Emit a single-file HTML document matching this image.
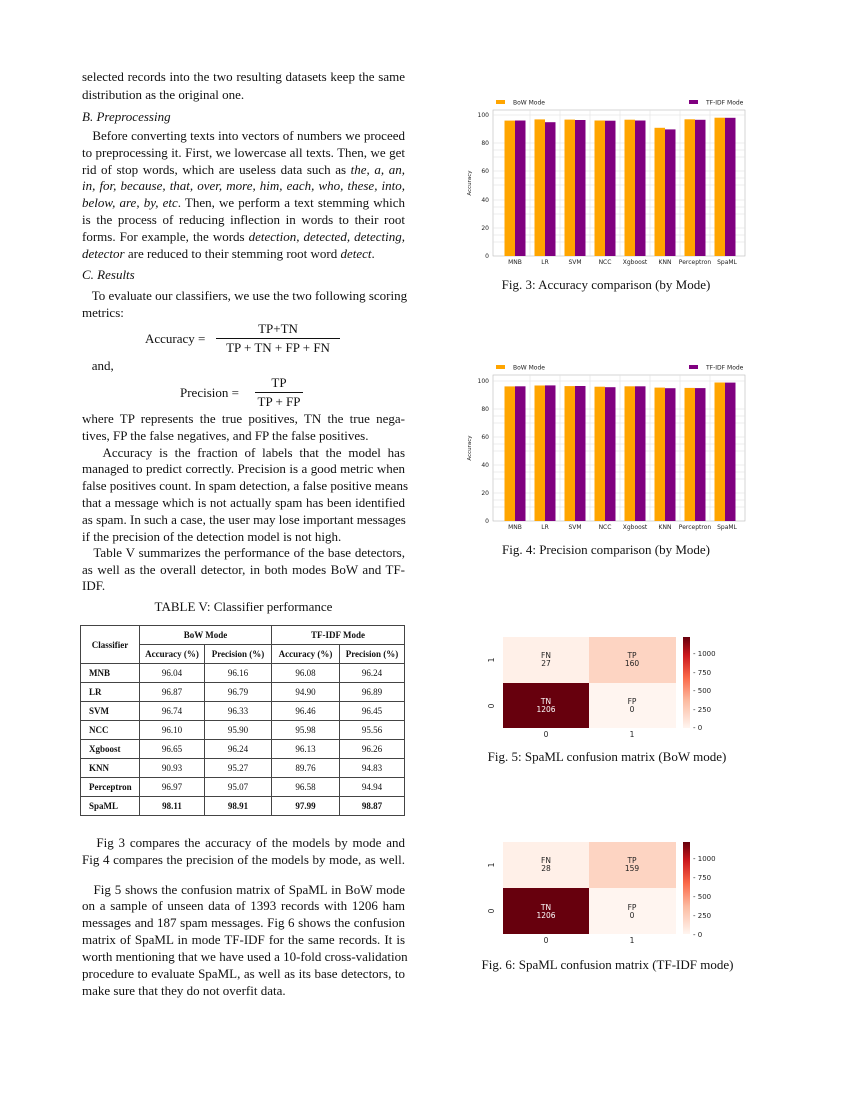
<!DOCTYPE html>
<html><head><meta charset="utf-8"><style>
body{margin:0;background:#fff;}
#p{position:relative;width:850px;height:1100px;overflow:hidden;font-family:"Liberation Serif",serif;font-size:13px;color:#111;}
.l{position:absolute;left:82px;width:323px;white-space:nowrap;text-align:justify;text-align-last:justify;line-height:16px;}
.n{text-align-last:left;}
.c{position:absolute;white-space:nowrap;line-height:16px;}
i{font-style:italic;}
table{position:absolute;left:80px;top:625px;border-collapse:collapse;font-size:9px;}
td{border:1px solid #444;text-align:center;height:18px;padding:0;}
td.b{font-weight:bold;text-align:left;padding-left:8px;}
svg{position:absolute;left:0;top:0;}
</style></head><body><div id="p">
<div class="l" style="top:69px">selected records into the two resulting datasets keep the same</div>
<div class="l n" style="top:87px">distribution as the original one.</div>
<div class="l n" style="top:109px"><i>B. Preprocessing</i></div>
<div class="l" style="top:128px">&nbsp;&nbsp;&nbsp;Before converting texts into vectors of numbers we proceed</div>
<div class="l" style="top:145px">to preprocessing it. First, we lowercase all texts. Then, we get</div>
<div class="l" style="top:162px">rid of stop words, which are useless data such as <i>the, a, an,</i></div>
<div class="l" style="top:178px"><i>in, for, because, that, over, more, him, each, who, these, into,</i></div>
<div class="l" style="top:195px"><i>below, are, by, etc</i>. Then, we perform a text stemming which</div>
<div class="l" style="top:212px">is the process of reducing inflection in words to their root</div>
<div class="l" style="top:229px">forms. For example, the words <i>detection, detected, detecting,</i></div>
<div class="l n" style="top:246px"><i>detector</i> are reduced to their stemming root word <i>detect</i>.</div>
<div class="l n" style="top:267px"><i>C. Results</i></div>
<div class="l" style="top:288px">&nbsp;&nbsp;&nbsp;To evaluate our classifiers, we use the two following scoring</div>
<div class="l n" style="top:305px">metrics:</div>
<div class="c" style="left:145px;top:331px">Accuracy =</div>
<div class="c" style="left:216px;top:321px;width:124px;text-align:center">TP+TN</div>
<div style="position:absolute;left:216px;top:338px;width:124px;border-top:1px solid #111"></div>
<div class="c" style="left:216px;top:340px;width:124px;text-align:center">TP + TN + FP + FN</div>
<div class="c" style="left:82px;top:358px">&nbsp;&nbsp;&nbsp;and,</div>
<div class="c" style="left:180px;top:385px">Precision =</div>
<div class="c" style="left:255px;top:375px;width:48px;text-align:center">TP</div>
<div style="position:absolute;left:255px;top:392px;width:48px;border-top:1px solid #111"></div>
<div class="c" style="left:255px;top:394px;width:48px;text-align:center">TP + FP</div>
<div class="l" style="top:411px">where TP represents the true positives, TN the true nega-</div>
<div class="l n" style="top:428px">tives, FP the false negatives, and FP the false positives.</div>
<div class="l" style="top:445px">&nbsp;&nbsp;&nbsp;Accuracy is the fraction of labels that the model has</div>
<div class="l" style="top:461px">managed to predict correctly. Precision is a good metric when</div>
<div class="l" style="top:478px">false positives count. In spam detection, a false positive means</div>
<div class="l" style="top:495px">that a message which is not actually spam has been identified</div>
<div class="l" style="top:512px">as spam. In such a case, the user may lose important messages</div>
<div class="l n" style="top:529px">if the precision of the detection model is not high.</div>
<div class="l" style="top:545px">&nbsp;&nbsp;&nbsp;Table V summarizes the performance of the base detectors,</div>
<div class="l" style="top:562px">as well as the overall detector, in both modes BoW and TF-</div>
<div class="l n" style="top:578px">IDF.</div>
<div class="c" style="left:82px;top:599px;width:323px;text-align:center">TABLE V: Classifier performance</div>
<table>
<tr><td rowspan="2" style="width:58px;font-weight:bold">Classifier</td><td colspan="2" style="font-weight:bold">BoW Mode</td><td colspan="2" style="font-weight:bold">TF-IDF Mode</td></tr>
<tr><td style="width:64px;font-weight:bold">Accuracy (%)</td><td style="width:66px;font-weight:bold">Precision (%)</td><td style="width:67px;font-weight:bold">Accuracy (%)</td><td style="width:64px;font-weight:bold">Precision (%)</td></tr>
<tr><td class="b">MNB</td><td>96.04</td><td>96.16</td><td>96.08</td><td>96.24</td></tr>
<tr><td class="b">LR</td><td>96.87</td><td>96.79</td><td>94.90</td><td>96.89</td></tr>
<tr><td class="b">SVM</td><td>96.74</td><td>96.33</td><td>96.46</td><td>96.45</td></tr>
<tr><td class="b">NCC</td><td>96.10</td><td>95.90</td><td>95.98</td><td>95.56</td></tr>
<tr><td class="b">Xgboost</td><td>96.65</td><td>96.24</td><td>96.13</td><td>96.26</td></tr>
<tr><td class="b">KNN</td><td>90.93</td><td>95.27</td><td>89.76</td><td>94.83</td></tr>
<tr><td class="b">Perceptron</td><td>96.97</td><td>95.07</td><td>96.58</td><td>94.94</td></tr>
<tr style="font-weight:bold"><td class="b">SpaML</td><td>98.11</td><td>98.91</td><td>97.99</td><td>98.87</td></tr>
</table>
<div class="l" style="top:835px">&nbsp;&nbsp;&nbsp;Fig 3 compares the accuracy of the models by mode and</div>
<div class="l" style="top:852px">Fig 4 compares the precision of the models by mode, as well.</div>
<div class="l" style="top:882px">&nbsp;&nbsp;&nbsp;Fig 5 shows the confusion matrix of SpaML in BoW mode</div>
<div class="l" style="top:898px">on a sample of unseen data of 1393 records with 1206 ham</div>
<div class="l" style="top:915px">messages and 187 spam messages. Fig 6 shows the confusion</div>
<div class="l" style="top:932px">matrix of SpaML in mode TF-IDF for the same records. It is</div>
<div class="l" style="top:949px">worth mentioning that we have used a 10-fold cross-validation</div>
<div class="l" style="top:966px">procedure to evaluate SpaML, as well as its base detectors, to</div>
<div class="l n" style="top:983px">make sure that they do not overfit data.</div>

<div class="c" style="left:470px;top:277px;width:272px;text-align:center">Fig. 3: Accuracy comparison (by Mode)</div>
<div class="c" style="left:470px;top:542px;width:272px;text-align:center">Fig. 4: Precision comparison (by Mode)</div>
<div class="c" style="left:462px;top:749px;width:290px;text-align:center">Fig. 5: SpaML confusion matrix (BoW mode)</div>
<div class="c" style="left:455px;top:957px;width:305px;text-align:center">Fig. 6: SpaML confusion matrix (TF-IDF mode)</div>

<svg width="850" height="1100" font-family="DejaVu Sans, sans-serif" font-size="6" fill="#222">
<defs>
<g id="grid" stroke="#ccc" stroke-width="0.5">
<line x1="493" x2="745" y1="0" y2="0"/>
</g>
</defs>
<!-- Chart 1 -->
<g>
<rect x="493" y="110" width="252" height="146" fill="none" stroke="#bbb" stroke-width="0.6"/>
<g stroke="#ddd" stroke-width="0.5">
<line x1="493" x2="745" y1="115" y2="115"/><line x1="493" x2="745" y1="143" y2="143"/><line x1="493" x2="745" y1="171" y2="171"/><line x1="493" x2="745" y1="200" y2="200"/><line x1="493" x2="745" y1="228" y2="228"/>
<line x1="493" x2="745" y1="150" y2="150"/><line x1="493" x2="745" y1="157" y2="157"/><line x1="493" x2="745" y1="178" y2="178"/><line x1="493" x2="745" y1="185" y2="185"/><line x1="493" x2="745" y1="207" y2="207"/><line x1="493" x2="745" y1="214" y2="214"/><line x1="493" x2="745" y1="235" y2="235"/><line x1="493" x2="745" y1="242" y2="242"/>
<line y1="110" y2="256" x1="530" x2="530"/><line y1="110" y2="256" x1="560" x2="560"/><line y1="110" y2="256" x1="590" x2="590"/><line y1="110" y2="256" x1="620" x2="620"/><line y1="110" y2="256" x1="650" x2="650"/><line y1="110" y2="256" x1="680" x2="680"/><line y1="110" y2="256" x1="710" x2="710"/>
</g>
<g fill="#ffa500">
<rect x="504.5" y="120.6" width="10.5" height="135.4"/><rect x="534.5" y="119.4" width="10.5" height="136.6"/><rect x="564.5" y="119.6" width="10.5" height="136.4"/><rect x="594.5" y="120.5" width="10.5" height="135.5"/><rect x="624.5" y="119.7" width="10.5" height="136.3"/><rect x="654.5" y="127.8" width="10.5" height="128.2"/><rect x="684.5" y="119.3" width="10.5" height="136.7"/><rect x="714.5" y="117.7" width="10.5" height="138.3"/>
</g>
<g fill="#800080">
<rect x="515" y="120.5" width="10.5" height="135.5"/><rect x="545" y="122.2" width="10.5" height="133.8"/><rect x="575" y="120" width="10.5" height="136"/><rect x="605" y="120.7" width="10.5" height="135.3"/><rect x="635" y="120.5" width="10.5" height="135.5"/><rect x="665" y="129.4" width="10.5" height="126.6"/><rect x="695" y="119.8" width="10.5" height="136.2"/><rect x="725" y="117.8" width="10.5" height="138.2"/>
</g>
<rect x="493" y="97" width="252" height="10" fill="#fff"/>
<rect x="496" y="100" width="9" height="4" fill="#ffa500"/><text x="513" y="104.5">BoW Mode</text>
<rect x="689" y="100" width="9" height="4" fill="#800080"/><text x="706" y="104.5">TF-IDF Mode</text>
<g text-anchor="end"><text x="489" y="117">100</text><text x="489" y="145">80</text><text x="489" y="173">60</text><text x="489" y="202">40</text><text x="489" y="230">20</text><text x="489" y="258">0</text></g>
<text transform="translate(471,183) rotate(-90)" text-anchor="middle" font-size="5.5">Accuracy</text>
<g text-anchor="middle"><text x="515" y="264">MNB</text><text x="545" y="264">LR</text><text x="575" y="264">SVM</text><text x="605" y="264">NCC</text><text x="635" y="264">Xgboost</text><text x="665" y="264">KNN</text><text x="695" y="264">Perceptron</text><text x="727" y="264">SpaML</text></g>
</g>
<!-- Chart 2 -->
<g>
<rect x="493" y="375" width="252" height="146" fill="none" stroke="#bbb" stroke-width="0.6"/>
<g stroke="#ddd" stroke-width="0.5">
<line x1="493" x2="745" y1="381" y2="381"/><line x1="493" x2="745" y1="409" y2="409"/><line x1="493" x2="745" y1="437" y2="437"/><line x1="493" x2="745" y1="465" y2="465"/><line x1="493" x2="745" y1="493" y2="493"/>
<line x1="493" x2="745" y1="416" y2="416"/><line x1="493" x2="745" y1="423" y2="423"/><line x1="493" x2="745" y1="444" y2="444"/><line x1="493" x2="745" y1="451" y2="451"/><line x1="493" x2="745" y1="472" y2="472"/><line x1="493" x2="745" y1="479" y2="479"/><line x1="493" x2="745" y1="500" y2="500"/><line x1="493" x2="745" y1="507" y2="507"/>
<line y1="375" y2="521" x1="530" x2="530"/><line y1="375" y2="521" x1="560" x2="560"/><line y1="375" y2="521" x1="590" x2="590"/><line y1="375" y2="521" x1="620" x2="620"/><line y1="375" y2="521" x1="650" x2="650"/><line y1="375" y2="521" x1="680" x2="680"/><line y1="375" y2="521" x1="710" x2="710"/>
</g>
<g fill="#ffa500">
<rect x="504.5" y="386.4" width="10.5" height="134.6"/><rect x="534.5" y="385.5" width="10.5" height="135.5"/><rect x="564.5" y="386.1" width="10.5" height="134.9"/><rect x="594.5" y="386.7" width="10.5" height="134.3"/><rect x="624.5" y="386.3" width="10.5" height="134.7"/><rect x="654.5" y="387.6" width="10.5" height="133.4"/><rect x="684.5" y="387.9" width="10.5" height="133.1"/><rect x="714.5" y="382.5" width="10.5" height="138.5"/>
</g>
<g fill="#800080">
<rect x="515" y="386.3" width="10.5" height="134.7"/><rect x="545" y="385.4" width="10.5" height="135.6"/><rect x="575" y="386" width="10.5" height="135"/><rect x="605" y="387.2" width="10.5" height="133.8"/><rect x="635" y="386.3" width="10.5" height="134.7"/><rect x="665" y="388.2" width="10.5" height="132.8"/><rect x="695" y="388.1" width="10.5" height="132.9"/><rect x="725" y="382.6" width="10.5" height="138.4"/>
</g>
<rect x="493" y="362" width="252" height="10" fill="#fff"/>
<rect x="496" y="365" width="9" height="4" fill="#ffa500"/><text x="513" y="369.5">BoW Mode</text>
<rect x="689" y="365" width="9" height="4" fill="#800080"/><text x="706" y="369.5">TF-IDF Mode</text>
<g text-anchor="end"><text x="489" y="383">100</text><text x="489" y="411">80</text><text x="489" y="439">60</text><text x="489" y="467">40</text><text x="489" y="495">20</text><text x="489" y="523">0</text></g>
<text transform="translate(471,448) rotate(-90)" text-anchor="middle" font-size="5.5">Accuracy</text>
<g text-anchor="middle"><text x="515" y="529">MNB</text><text x="545" y="529">LR</text><text x="575" y="529">SVM</text><text x="605" y="529">NCC</text><text x="635" y="529">Xgboost</text><text x="665" y="529">KNN</text><text x="695" y="529">Perceptron</text><text x="727" y="529">SpaML</text></g>
</g>
<!-- CM 1 -->
<defs><linearGradient id="cb" x1="0" y1="1" x2="0" y2="0"><stop offset="0" stop-color="#fff5f0"/><stop offset="0.3" stop-color="#fcbba1"/><stop offset="0.55" stop-color="#fb6a4a"/><stop offset="0.8" stop-color="#cb181d"/><stop offset="1" stop-color="#67000d"/></linearGradient></defs>
<g font-size="7.5" text-anchor="middle">
<rect x="503" y="637" width="86" height="46" fill="#fff0e8"/><rect x="589" y="637" width="87" height="46" fill="#fdd4c2"/>
<rect x="503" y="683" width="86" height="45" fill="#67000d"/><rect x="589" y="683" width="87" height="45" fill="#fff5f0"/>
<text x="546" y="658">FN</text><text x="546" y="666">27</text><text x="632" y="658">TP</text><text x="632" y="666">160</text>
<text x="546" y="704" fill="#fff">TN</text><text x="546" y="712" fill="#fff">1206</text><text x="632" y="704">FP</text><text x="632" y="712">0</text>
<text x="546" y="737">0</text><text x="632" y="737">1</text>
<text transform="translate(494,660) rotate(-90)">1</text><text transform="translate(494,706) rotate(-90)">0</text>
<rect x="683" y="637" width="7" height="91" fill="url(#cb)"/>
<g text-anchor="start" font-size="7"><text x="693" y="656">- 1000</text><text x="693" y="675">- 750</text><text x="693" y="693">- 500</text><text x="693" y="712">- 250</text><text x="693" y="730">- 0</text></g>
</g>
<!-- CM 2 -->
<g font-size="7.5" text-anchor="middle">
<rect x="503" y="842" width="86" height="46" fill="#fff0e8"/><rect x="589" y="842" width="87" height="46" fill="#fdd4c2"/>
<rect x="503" y="888" width="86" height="46" fill="#67000d"/><rect x="589" y="888" width="87" height="46" fill="#fff5f0"/>
<text x="546" y="863">FN</text><text x="546" y="871">28</text><text x="632" y="863">TP</text><text x="632" y="871">159</text>
<text x="546" y="910" fill="#fff">TN</text><text x="546" y="918" fill="#fff">1206</text><text x="632" y="910">FP</text><text x="632" y="918">0</text>
<text x="546" y="943">0</text><text x="632" y="943">1</text>
<text transform="translate(494,865) rotate(-90)">1</text><text transform="translate(494,911) rotate(-90)">0</text>
<rect x="683" y="842" width="7" height="92" fill="url(#cb)"/>
<g text-anchor="start" font-size="7"><text x="693" y="861">- 1000</text><text x="693" y="880">- 750</text><text x="693" y="899">- 500</text><text x="693" y="918">- 250</text><text x="693" y="937">- 0</text></g>
</g>
</svg>
</div></body></html>
